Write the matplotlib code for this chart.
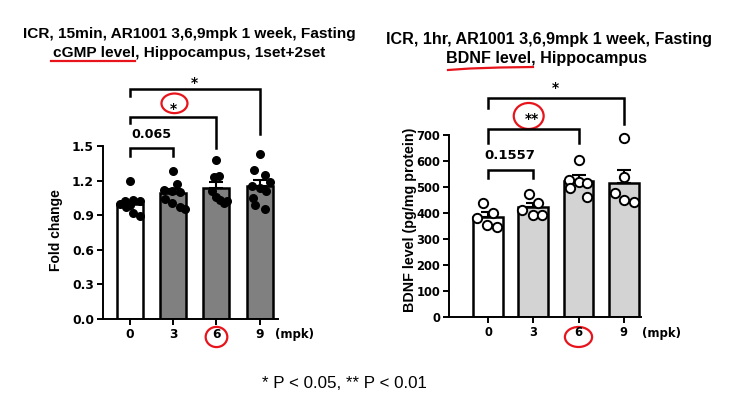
import matplotlib
matplotlib.use("Agg")
import matplotlib.pyplot as plt
from matplotlib.patches import Ellipse
from matplotlib.lines import Line2D

plt.rcParams['font.family'] = ['Liberation Sans', 'DejaVu Sans']

# ---------------- data ----------------
doses = ['0', '3', '6', '9']

cgmp_mean = [1.00, 1.09, 1.14, 1.15]
cgmp_sem = [0.025, 0.035, 0.045, 0.055]
cgmp_pts_0 = [1.20, 1.03, 1.02, 1.02, 1.00, 0.99, 0.97, 0.92, 0.89]
cgmp_pts_3 = [1.28, 1.17, 1.12, 1.11, 1.10, 1.04, 1.01, 0.97, 0.95]
cgmp_pts_6 = [1.38, 1.24, 1.23, 1.11, 1.06, 1.03, 1.02, 1.01]
cgmp_pts_9 = [1.43, 1.29, 1.25, 1.19, 1.15, 1.14, 1.11, 1.05, 0.99, 0.95]

bdnf_mean = [385, 421, 520, 515]
bdnf_sem = [18, 18, 25, 48]
bdnf_pts_0 = [438, 398, 378, 353, 346]
bdnf_pts_3 = [472, 438, 410, 391, 391]
bdnf_pts_6 = [603, 526, 519, 513, 494, 462]
bdnf_pts_9 = [686, 536, 475, 449, 442]

cgmp_yticks = [0.0, 0.3, 0.6, 0.9, 1.2, 1.5]
bdnf_yticks = [0, 100, 200, 300, 400, 500, 600, 700]

# jitter offsets (layout only)
cgmp_jit = [
    [0.0, 0.08, -0.12, 0.23, -0.23, 0.0, -0.08, 0.08, 0.23],
    [0.0, 0.08, -0.22, -0.03, 0.16, -0.18, -0.03, 0.16, 0.28],
    [0.0, 0.05, -0.06, -0.10, -0.02, 0.09, 0.25, 0.18],
    [0.0, -0.14, 0.12, 0.23, -0.19, 0.0, 0.15, -0.15, -0.12, 0.12],
]
bdnf_jit = [
    [-0.10, 0.12, -0.24, -0.03, 0.19],
    [-0.10, 0.10, -0.24, -0.01, 0.19],
    [0.0, -0.20, 0.0, 0.18, -0.18, 0.18],
    [0.0, 0.0, -0.20, 0.0, 0.23],
]

CHART_FONT = ['DejaVu Sans']
RED = '#e8141c'

W, H = 743, 409
fig = plt.figure(figsize=(W / 100, H / 100), dpi=100)

def px_axes(x0, y0, x1, y1):
    return fig.add_axes([x0 / W, 1 - y1 / H, (x1 - x0) / W, (y1 - y0) / H])

def style_axes(ax, ylim, yticks, yfmt, size):
    for s in ['top', 'right']:
        ax.spines[s].set_visible(False)
    for s in ['left', 'bottom']:
        ax.spines[s].set_linewidth(1.4)
    ax.set_ylim(*ylim)
    ax.set_yticks(yticks)
    ax.set_yticklabels([yfmt(v) for v in yticks])
    ax.set_xticks(range(len(doses)))
    ax.set_xticklabels(doses)
    ax.tick_params(axis='both', length=4, width=1.4, labelsize=size, pad=2.5)
    for lab in ax.get_xticklabels() + ax.get_yticklabels():
        lab.set_fontweight('bold')
        lab.set_family(CHART_FONT)

def bracket(ax, x1, x2, y, yl, yr, lw=1.8):
    ax.add_line(Line2D([x1, x1, x2, x2], [yl, y, y, yr], color='black',
                       lw=lw, clip_on=False, solid_joinstyle='miter'))

def atext(ax, xx, yy, s, size=9, **kw):
    ax.text(xx, yy, s, fontsize=size, fontweight='bold', family=CHART_FONT,
            ha='center', va='center', **kw)

# ---------------- left: cGMP ----------------
ax1 = px_axes(103, 146, 278, 319)
x = list(range(len(doses)))
ax1.bar(x, cgmp_mean, width=0.6, color=['white', '#808080', '#808080', '#808080'],
        edgecolor='black', linewidth=1.8, zorder=2)
ax1.errorbar(x, cgmp_mean, yerr=[[0] * 4, cgmp_sem], fmt='none', ecolor='black',
             elinewidth=1.5, capsize=5, capthick=1.5, zorder=3)
for i, pts in enumerate([cgmp_pts_0, cgmp_pts_3, cgmp_pts_6, cgmp_pts_9]):
    ax1.scatter([i + j for j in cgmp_jit[i]], pts, s=30, color='black',
                zorder=4, clip_on=False)
ax1.set_xlim(-0.62, 3.42)
style_axes(ax1, (0, 1.5), cgmp_yticks, lambda v: f"{v:.1f}", 8.8)
ax1.set_ylabel('Fold change', fontsize=10, fontweight='bold')
ax1.yaxis.set_label_coords((63 - 103) / 175, (319 - 230) / 173)
atext(ax1, 3.81, -0.092, '(mpk)', size=8.5, transform=ax1.get_xaxis_transform())

bracket(ax1, 0, 1, 1.48, 1.41, 1.41)
atext(ax1, 0.5, 1.60, '0.065', size=9.2)
bracket(ax1, 0, 2, 1.754, 1.70, 1.48)
atext(ax1, 1.0, 1.82, '*', size=10)
bracket(ax1, 0, 3, 1.99, 1.93, 1.60)
atext(ax1, 1.5, 2.05, '*', size=10)
ax1.add_patch(Ellipse((1.03, 1.87), 0.6, 0.17, fill=False, edgecolor=RED,
                      lw=1.6, clip_on=False))
ax1.add_patch(Ellipse((2.0, -0.156), 0.5, 0.175, fill=False, edgecolor=RED,
                      lw=1.6, clip_on=False))

# ---------------- right: BDNF ----------------
ax2 = px_axes(449, 134.7, 641, 316.7)
ax2.bar(x, bdnf_mean, width=0.66, color=['white', '#d3d3d3', '#d3d3d3', '#d3d3d3'],
        edgecolor='black', linewidth=1.8, zorder=2)
ax2.errorbar(x, bdnf_mean, yerr=[[0] * 4, bdnf_sem], fmt='none', ecolor='black',
             elinewidth=1.5, capsize=5, capthick=1.5, zorder=3)
for i, pts in enumerate([bdnf_pts_0, bdnf_pts_3, bdnf_pts_6, bdnf_pts_9]):
    ax2.scatter([i + j for j in bdnf_jit[i]], pts, s=45, facecolor='white',
                edgecolor='black', linewidth=1.4, zorder=4, clip_on=False)
ax2.set_xlim(-0.86, 3.38)
style_axes(ax2, (0, 700), bdnf_yticks, lambda v: f"{v:d}", 8.3)
ax2.set_ylabel('BDNF level (pg/mg protein)', fontsize=10.3, fontweight='bold')
ax2.yaxis.set_label_coords((417 - 449) / 192, (316.7 - 220) / 182)
atext(ax2, 3.84, -0.095, '(mpk)', size=8.5, transform=ax2.get_xaxis_transform())

bracket(ax2, 0, 1, 564, 532, 532)
atext(ax2, 0.49, 619, '0.1557', size=9.5)
bracket(ax2, 0, 2, 721, 667, 667)
atext(ax2, 0.97, 760, '**', size=10)
bracket(ax2, 0, 3, 840, 801, 741)
atext(ax2, 1.49, 878, '*', size=10)
ax2.add_patch(Ellipse((0.9, 772), 0.66, 100, fill=False, edgecolor=RED,
                      lw=1.6, clip_on=False))
ax2.add_patch(Ellipse((2.0, -78), 0.6, 77, fill=False, edgecolor=RED,
                      lw=1.6, clip_on=False))

# ---------------- titles & notes ----------------
def ftext(xp, yp, s, **kw):
    fig.text(xp / W, 1 - yp / H, s, ha='center', va='center', **kw)

ftext(189, 34, 'ICR, 15min, AR1001 3,6,9mpk 1 week, Fasting', fontsize=11.1, fontweight='bold')
ftext(189, 52.7, 'cGMP level, Hippocampus, 1set+2set', fontsize=11.1, fontweight='bold')
ftext(549, 39.3, 'ICR, 1hr, AR1001 3,6,9mpk 1 week, Fasting', fontsize=11.6, fontweight='bold')
ftext(547, 58.3, 'BDNF level, Hippocampus', fontsize=11.6, fontweight='bold')

fig.add_artist(Line2D([51 / W, 135 / W], [1 - 61 / H, 1 - 61 / H], color=RED, lw=1.6))
fig.add_artist(Line2D([448 / W, 470 / W, 500 / W, 533 / W],
                      [1 - 70 / H, 1 - 68.5 / H, 1 - 67.5 / H, 1 - 67 / H],
                      color=RED, lw=1.6))

ftext(344, 383, '* P < 0.05, ** P < 0.01', fontsize=12.2)

fig.savefig('out.png', dpi=100)
